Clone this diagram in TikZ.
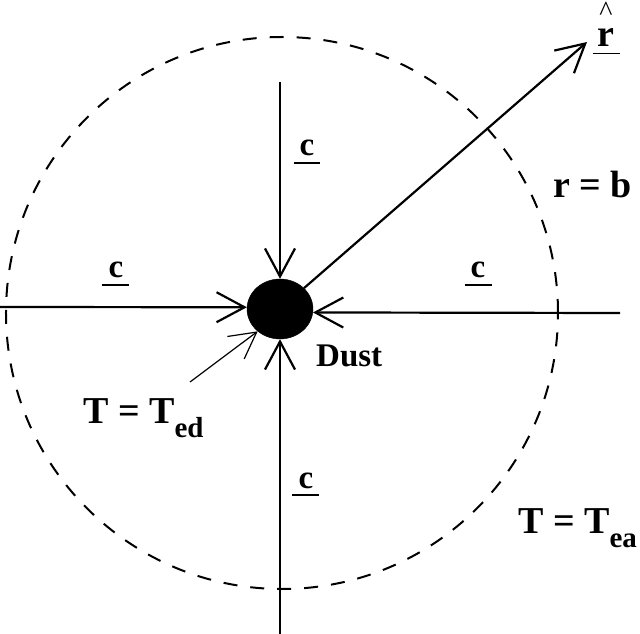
\documentclass[tikz,border=0pt]{standalone}
\usepackage{fontspec}
\setmainfont{Liberation Serif}
\usetikzlibrary{arrows.meta,shapes.geometric}
\newcommand{\ulbox}[2]{\vtop{\hbox to #1{\hss#2\hss}\kern6pt\hrule height 1.3pt}}
\newcommand{\subx}[1]{\raisebox{-0.37em}{\fontsize{29}{29}\selectfont #1}}
\newcommand{\hatr}{\ooalign{r\cr\hidewidth\raisebox{26pt}{\fontsize{28}{28}\mdseries\textasciicircum}\hidewidth\cr}}
\begin{document}
\begin{tikzpicture}[x=1pt,y=1pt,
    flow/.style={line width=2.2pt, -{Straight Barb[length=28pt,width=30pt]}},
    pointer/.style={line width=1.2pt, -{Straight Barb[length=26pt,width=28pt]}},
    rim/.style={line width=2pt, dash pattern=on 14pt off 13pt},
    blob/.style={ellipse, fill=black, draw=black, inner sep=0pt,
        minimum width=66pt, minimum height=60pt},
    biglab/.style={font=\bfseries\fontsize{38}{38}\selectfont, inner sep=0pt},
    midlab/.style={font=\bfseries\fontsize{33}{33}\selectfont, inner sep=0pt}]
    \useasboundingbox (-280,-325) rectangle (360,309);

    % boundary r = b
    \draw[rim] (2,-4) circle[radius=276];

    % dust grain
    \node[blob] (dust) at (0,0) {};

    % free ends
    \coordinate (ntop) at (0,227);
    \coordinate (sbot) at (0,-325);
    \coordinate (wleft) at (-280,2);
    \coordinate (eright) at (340,-4);
    \coordinate (rtip) at (307,267);
    \coordinate (tedend) at (-90,-73);

    % flows toward the grain
    \draw[flow] (ntop) -- (dust.north);
    \draw[flow] (sbot) -- (dust.south);
    \draw[flow] (wleft) -- (dust.177);
    \draw[flow] (eright) -- (dust.-6);
    \draw[flow] (dust) -- (rtip);
    \draw[pointer] (tedend) -- (dust.225);

    % labels
    \node[midlab, anchor=base] (cn) at (27,153) {\ulbox{27pt}{c}};
    \node[midlab, anchor=base] (cw) at (-164,31) {\ulbox{27pt}{c}};
    \node[midlab, anchor=base] (ce) at (198,31) {\ulbox{27pt}{c}};
    \node[midlab, anchor=base] (cs) at (26,-179) {\ulbox{27pt}{c}};
    \node[midlab, anchor=base west] (dustlab) at (36,-58) {Dust};
    \node[biglab, anchor=base west] (ted) at (-197,-114) {T = T\subx{ed}};
    \node[biglab, anchor=base west] (tea) at (238,-224) {T = T\subx{ea}};
    \node[biglab, anchor=base west] (rb) at (273,111) {r = b};
    \node[biglab, anchor=base] (rhat) at (326,262) {\ulbox{27pt}{\hatr}};
\end{tikzpicture}
\end{document}
